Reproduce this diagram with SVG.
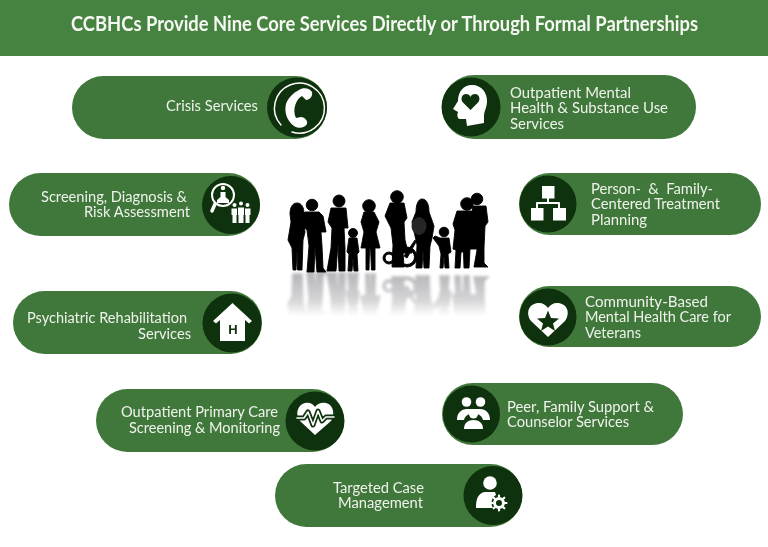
<svg xmlns="http://www.w3.org/2000/svg" xmlns:xlink="http://www.w3.org/1999/xlink" width="768" height="547" viewBox="0 0 768 547">
<style>
.pill{fill:#41773a}
.disc{fill:#0f3009}
.t{font-family:"Lato","Open Sans","Liberation Sans",sans-serif;font-size:14.8px;fill:#eef3ec}
.w{fill:#fff}
.wl{fill:none;stroke:#fff;stroke-linecap:round;stroke-linejoin:round}
.d{fill:#0f3009}
.dl{fill:none;stroke:#0f3009;stroke-linejoin:round}
</style>
<defs>
<filter id="soft" x="-5%" y="-5%" width="110%" height="110%"><feGaussianBlur stdDeviation="0.35"/></filter>
<filter id="blur" x="-5%" y="-5%" width="110%" height="110%"><feGaussianBlur stdDeviation="0.7"/></filter>
<filter id="blur2" x="-5%" y="-5%" width="110%" height="110%"><feGaussianBlur stdDeviation="1.4"/></filter>
<linearGradient id="fade" gradientUnits="userSpaceOnUse" x1="0" y1="272" x2="0" y2="228">
<stop offset="0" stop-color="#b4b4b8"/><stop offset="0.65" stop-color="#d6d6d8"/><stop offset="1" stop-color="#ffffff"/>
</linearGradient>
<g id="crowd">
<path d="M297 203C302 203 304 208 304 214L303 219 305 232 303 240 302 270H297.500L297 250 296 270H293L292 248 288 240 291 222 290 214C290 208 292 203 297 203Z"/>
<circle cx="312" cy="205" r="5.800"/><path d="M305 212H319L323 216 326 232 321 232 322 246 323 268 326 272H317L315 247 314 272H307L309 246 307 230 302 226 302 216Z"/>
<circle cx="339" cy="201" r="6"/><path d="M331 208H346L348 228 344 228 345 248 345 271H339L338 244 336 271H327L331 248 332 228 328 222Z"/>
<circle cx="353" cy="233" r="4.500"/><path d="M349 238H357L359 252 357 254 358 271H354L353 258 352 271H348L349 254 347 252Z"/>
<circle cx="369" cy="206" r="6.300"/><path d="M364 212H374L379 222 376 232 380 248H375L375 270H371.500L370.500 248H369.500L369 270H366L366 248H361L364 232 361 222Z"/>
<circle cx="397" cy="197" r="6.300"/><path d="M390 203H404L407 218 404 222 405 240 408 252H403L404 267H392L393 245 391 228 385 216Z"/>
<path fill-rule="evenodd" d="M383 258a6 6 0 1 0 12 0a6 6 0 1 0-12 0ZM385 258a4 4 0 1 0 8 0a4 4 0 1 0-8 0Z"/>
<path fill-rule="evenodd" d="M397 257a10 10 0 1 0 20 0a10 10 0 1 0-20 0ZM399.500 257a7.500 7.500 0 1 0 15 0a7.500 7.500 0 1 0-15 0Z"/>
<path d="M404 256L415 240 416 242 407 258ZM395 250H412V253H395Z"/>
<path d="M422 199C427 199 429 205 429 212L434 226 432 238 430 246 429 268H424L423 250 422 268H416L417 245 415 236 412 222 416 212C416 205 418 199 422 199Z"/>
<circle cx="444" cy="232" r="4.800"/><path d="M440 238H449L451 252 448 254 449 268H445L444 256 443 268H440L441 254 439 246 433 238 435 236Z"/>
<circle cx="467" cy="204" r="6.300"/><path d="M457 211H476L477 249 470 249 469 268H464L463.500 252 461 252 460 268H455L456 250 453 249 455 230 453 224Z"/>
<circle cx="477" cy="199" r="5.800"/><path d="M472 206H486L488 222 485 226 484 248 484 263 488 267H474L477 250Z"/>
</g>
</defs>
<g id="page" filter="url(#soft)">
<rect width="768" height="547" fill="#ffffff"/>
<g id="header">
<rect x="0" y="0" width="768" height="56" fill="#47833f"/>
<text x="71" y="31" textLength="627" lengthAdjust="spacingAndGlyphs" style="font-family:Lato,'Liberation Sans',sans-serif;font-size:20px;font-weight:700;fill:#f6f8f4">CCBHCs Provide Nine Core Services Directly or Through Formal Partnerships</text>
</g>
<g id="connectors"/>
<g id="people">
<use xlink:href="#crowd" href="#crowd" fill="url(#fade)" stroke="url(#fade)" stroke-width="1.500" transform="matrix(1 0 0 -1 0 544)" filter="url(#blur2)"/>
<use xlink:href="#crowd" href="#crowd" fill="#000000" stroke="#000000" stroke-width="0.900" filter="url(#blur)"/>
<ellipse cx="419" cy="226" rx="7.500" ry="9" fill="#262626" filter="url(#blur)"/>
</g>

<g id="crisis">
<rect class="pill" x="72" y="76" width="255" height="63" rx="31.500"/>
<circle class="disc" cx="297" cy="107.500" r="30"/>
<path class="wl" stroke-width="1.500" d="M292 132A25 25 0 1 0 281 125"/>
<path class="w" d="M299 90C303 87 310 88 312 92C313 96 310 100 306 100L302 96C296 99 292 110 296 118L301 117C305 117 308 121 307 124C305 128 298 129 294 126C287 121 284 112 286 104C288 98 293 93 299 90Z"/>
<text class="t" x="166" y="111" textLength="92" lengthAdjust="spacingAndGlyphs">Crisis Services</text>
</g>

<g id="screening">
<rect class="pill" x="9" y="173" width="251" height="63" rx="31.500"/>
<circle class="disc" cx="231" cy="205" r="29"/>
<circle class="wl" cx="223" cy="195" r="11" stroke-width="2"/>
<path class="wl" stroke-width="3.500" d="M215 204L212 211"/>
<circle class="w" cx="223" cy="188" r="2.200"/>
<path class="w" d="M220.500 192H225.500V197L229 200V203H217V200L220.500 197Z"/>
<circle class="w" cx="234.500" cy="205" r="2"/><circle class="w" cx="241" cy="203.500" r="2"/><circle class="w" cx="247.500" cy="205" r="2"/>
<path class="w" d="M231.500 208.500H237V215H236.500V223H232.500V215H231.500ZM238 207.500H244V215H243.500V223H238.500V215H238ZM245 208.500H250.500V215H249.500V223H245.500V215H245Z"/>
<text class="t" x="41" y="202" textLength="146" lengthAdjust="spacingAndGlyphs">Screening, Diagnosis &amp;</text>
<text class="t" x="84" y="217" textLength="106" lengthAdjust="spacingAndGlyphs">Risk Assessment</text>
</g>

<g id="psychiatric">
<rect class="pill" x="13" y="291" width="249" height="63" rx="31.500"/>
<circle class="disc" cx="232" cy="323" r="29.500"/>
<path class="w" d="M232.500 303L252 321 249 323.500 245 320V341H220V320L216 323.500 213 321Z"/>
<text x="233" y="334" text-anchor="middle" style="font-family:'Liberation Sans',sans-serif;font-size:13px;font-weight:700;fill:#0f3009">H</text>
<text class="t" x="27" y="323" textLength="160" lengthAdjust="spacingAndGlyphs">Psychiatric Rehabilitation</text>
<text class="t" x="138" y="339" textLength="53" lengthAdjust="spacingAndGlyphs">Services</text>
</g>

<g id="primary-care">
<rect class="pill" x="96" y="389" width="248" height="63" rx="31.500"/>
<circle class="disc" cx="315" cy="421" r="29.500"/>
<path class="w" d="M315 435L300 421C295 415 297 405 305 403C310 402 313 404 315 407C317 404 321 402 326 403C334 405 335 415 331 421Z"/>
<path class="dl" stroke-width="5" d="M294 418H304L308 412 313 425 318 411 322 421 326 417H337"/>
<path class="wl" stroke-width="1.600" d="M297 418H304L308 412 313 425 318 411 322 421 326 417H334"/>
<text class="t" x="121" y="417" textLength="157" lengthAdjust="spacingAndGlyphs">Outpatient Primary Care</text>
<text class="t" x="129" y="433" textLength="151" lengthAdjust="spacingAndGlyphs">Screening &amp; Monitoring</text>
</g>

<g id="case-management">
<rect class="pill" x="275" y="464" width="247" height="63" rx="31.500"/>
<circle class="disc" cx="493" cy="495.500" r="29.500"/>
<circle class="w" cx="490" cy="483" r="6.800"/>
<path class="w" d="M476 508C476 499 478 493 485 492H495L496 495C492 497 490 503 493 508Z"/>
<circle class="wl" cx="499" cy="503" r="4.500" stroke-width="3"/>
<path class="wl" stroke-width="2.200" d="M499 495.500V497M499 509V510.500M491.500 503H493M505 503H506.500M493.700 497.700L494.800 498.800M503.200 507.200L504.300 508.300M504.300 497.700L503.200 498.800M494.800 507.200L493.700 508.300"/>
<text class="t" x="333" y="493" textLength="91" lengthAdjust="spacingAndGlyphs">Targeted Case</text>
<text class="t" x="338" y="508" textLength="85" lengthAdjust="spacingAndGlyphs">Management</text>
</g>

<g id="outpatient-mental">
<rect class="pill" x="442" y="75" width="254" height="64" rx="32"/>
<circle class="disc" cx="471" cy="107" r="29.500"/>
<path class="w" d="M472 85C482 85 487 93 487 101C487 108 484 111 484 116V123L467 126 466 119H460C457 119 457 114 458 112L453 109 458 101C458 92 463 85 472 85Z"/>
<path class="d" d="M470.500 110L463 102.500C460 99 462 94 466 94C468 94 470 95 470.500 97C471 95 473 94 475 94C479 94 481 99 478 102.500Z"/>
<text class="t" x="510" y="98" textLength="121" lengthAdjust="spacingAndGlyphs">Outpatient Mental</text>
<text class="t" x="510" y="113" textLength="158" lengthAdjust="spacingAndGlyphs">Health &amp; Substance Use</text>
<text class="t" x="510" y="129" textLength="54" lengthAdjust="spacingAndGlyphs">Services</text>
</g>

<g id="person-family">
<rect class="pill" x="519" y="173" width="242" height="62" rx="31"/>
<circle class="disc" cx="548" cy="204" r="28.500"/>
<path class="wl" stroke-width="2" d="M548 197V203M537 209V203H559V209"/>
<rect class="w" x="542" y="186" width="12.500" height="12.500"/>
<rect class="w" x="531" y="208" width="12.500" height="12.500"/>
<rect class="w" x="553" y="208" width="13" height="12.500"/>
<text class="t" x="591" y="194" textLength="122" lengthAdjust="spacing" style="white-space:pre">Person-  &amp;  Family-</text>
<text class="t" x="591" y="209" textLength="129" lengthAdjust="spacingAndGlyphs">Centered Treatment</text>
<text class="t" x="591" y="225" textLength="56" lengthAdjust="spacingAndGlyphs">Planning</text>
</g>

<g id="community">
<rect class="pill" x="519" y="286" width="242" height="61" rx="30.500"/>
<circle class="disc" cx="548" cy="317" r="28.500"/>
<path class="w" d="M548 337L531 321C525 313 529 303 539 303C543 303 546 305 548 308C550 305 553 303 557 303C567 303 571 313 565 321Z"/>
<path class="d" d="M548 310.500L551 318 559 318.500 553 323.500 555 331 548 326.500 541 331 543 323.500 537 318.500 545 318Z"/>
<text class="t" x="585" y="307" textLength="123" lengthAdjust="spacingAndGlyphs">Community-Based</text>
<text class="t" x="585" y="322" textLength="146" lengthAdjust="spacingAndGlyphs">Mental Health Care for</text>
<text class="t" x="585" y="338" textLength="56" lengthAdjust="spacingAndGlyphs">Veterans</text>
</g>

<g id="peer">
<rect class="pill" x="442" y="383" width="241" height="62" rx="31"/>
<circle class="disc" cx="471.500" cy="414" r="28.500"/>
<circle class="w" cx="466.500" cy="402" r="4.800"/>
<circle class="w" cx="480.500" cy="402" r="4.800"/>
<path class="w" d="M457 420C457 413 461 409 467 409H480C486 409 490 413 490 420H483C481 411 466 411 464 420Z"/>
<circle class="w" cx="473.500" cy="414" r="4.500"/>
<path class="w" d="M464 429C464 423 468 420 473.500 420C479 420 483 423 483 429Z"/>
<text class="t" x="507" y="412" textLength="147" lengthAdjust="spacingAndGlyphs">Peer, Family Support &amp;</text>
<text class="t" x="507" y="427" textLength="122" lengthAdjust="spacingAndGlyphs">Counselor Services</text>
</g>
</g>
</svg>
